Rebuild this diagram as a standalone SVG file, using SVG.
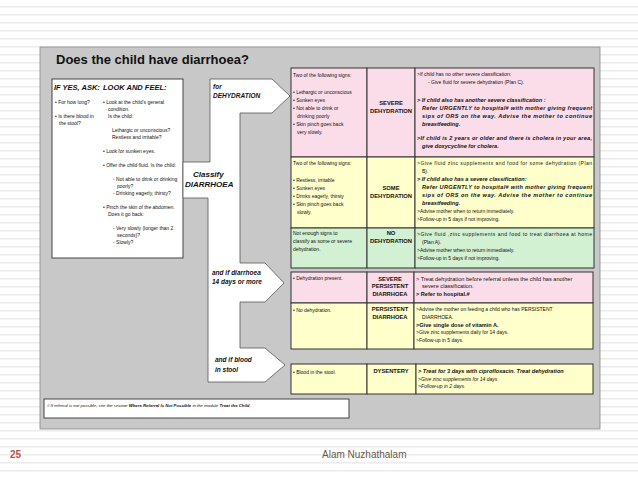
<svg xmlns="http://www.w3.org/2000/svg" width="638" height="478" viewBox="0 0 638 478">
<defs>
<pattern id="stripes" width="638" height="8" patternUnits="userSpaceOnUse">
<rect width="638" height="8" fill="#fff"/><rect y="6" width="638" height="1.5" fill="#ececec"/>
</pattern>
<style>
text{font-family:"Liberation Sans",Arial,sans-serif;fill:#111}
.s{font-size:5.6px}
.t{font-size:5px}
.b{font-weight:bold}
.i{font-style:italic}
.h{font-size:7.5px;font-weight:bold;font-style:italic}
.c{font-size:5.8px;font-weight:bold;text-anchor:middle}
.cell{stroke:#333;stroke-width:1}
.pk{fill:#fbdde9}.yl{fill:#ffffcc}.gn{fill:#d2f0d2}
</style>
</defs>
<rect width="638" height="478" fill="url(#stripes)"/>
<rect x="40" y="47" width="560" height="382" fill="#c8c8c8" stroke="#888" stroke-width="0.8"/>
<text x="56" y="64" style="font-size:13px;font-weight:bold">Does the child have diarrhoea?</text>

<g id="assess">
<rect x="52" y="79" width="131" height="179" fill="#fff" stroke="#444"/>
<text x="54" y="90" class="h">IF YES, ASK:</text><text x="103" y="90" class="h">LOOK AND FEEL:</text>
<text class="t"><tspan x="55" y="104">• For how long?</tspan><tspan x="55" y="118">• Is there blood in</tspan><tspan x="59" y="125">the stool?</tspan></text>
<text class="t"><tspan x="103" y="104">• Look at the child's general</tspan><tspan x="108" y="111">condition.</tspan><tspan x="108" y="118">Is the child:</tspan><tspan x="112" y="132">Lethargic or unconscious?</tspan><tspan x="112" y="139">Restless and irritable?</tspan><tspan x="103" y="153">• Look for sunken eyes.</tspan><tspan x="103" y="167">• Offer the child fluid. Is the child:</tspan><tspan x="113" y="181">- Not able to drink or drinking</tspan><tspan x="117" y="188">poorly?</tspan><tspan x="113" y="195">- Drinking eagerly, thirsty?</tspan><tspan x="103" y="209">• Pinch the skin of the abdomen.</tspan><tspan x="108" y="216">Does it go back:</tspan><tspan x="113" y="230">- Very slowly (longer than 2</tspan><tspan x="117" y="237">seconds)?</tspan><tspan x="113" y="244">- Slowly?</tspan></text>
</g>

<g id="connectors">
<polygon points="210,79 272,79 290,96 272,113 240,113 240,263 265,263 284,283 265,302 240,302 240,348 265,348 285,365 265,382 208,382 208,198 183,198 183,162 210,162" fill="#fff" stroke="#555" stroke-width="0.8"/>
<text class="i b" style="font-size:6.5px"><tspan x="213" y="89">for</tspan><tspan x="213" y="98">DEHYDRATION</tspan></text>
<text class="i b" style="font-size:8px"><tspan x="193" y="177">Classify</tspan><tspan x="185" y="187">DIARRHOEA</tspan></text>
<text class="i b" style="font-size:6.5px"><tspan x="212" y="275">and if diarrhoea</tspan><tspan x="212" y="284">14 days or more</tspan></text>
<text class="i b" style="font-size:6.5px"><tspan x="215" y="362">and if blood</tspan><tspan x="215" y="372">in stool</tspan></text>
</g>

<g id="severe-dehydration">
<rect class="cell pk" x="291" y="68" width="76" height="89"/><rect class="cell pk" x="367" y="68" width="48" height="89"/><rect class="cell pk" x="415" y="68" width="179" height="89"/>
<text class="t"><tspan x="293" y="77">Two of the following signs:</tspan><tspan x="293" y="94">• Lethargic or unconscious</tspan><tspan x="293" y="102">• Sunken eyes</tspan><tspan x="293" y="110">• Not able to drink or</tspan><tspan x="297" y="118">drinking poorly</tspan><tspan x="293" y="126">• Skin pinch goes back</tspan><tspan x="297" y="134">very slowly.</tspan></text>
<text class="c"><tspan x="391" y="105">SEVERE</tspan><tspan x="391" y="113">DEHYDRATION</tspan></text>
<text class="t"><tspan x="417" y="76">&gt;If child has no other severe classification:</tspan><tspan x="428" y="84">- Give fluid for severe dehydration (Plan C).</tspan></text>
<text class="s b i"><tspan x="417" y="102">&gt; If child also has another severe classification :</tspan><tspan x="422" y="110" textLength="170" lengthAdjust="spacing">Refer URGENTLY to hospital# with mother giving frequent</tspan><tspan x="422" y="118" textLength="170" lengthAdjust="spacing">sips of ORS on the way. Advise the mother to continue</tspan><tspan x="422" y="126">breastfeeding.</tspan><tspan x="417" y="140" textLength="175" lengthAdjust="spacing">&gt;If child is 2 years or older and there is cholera in your area,</tspan><tspan x="422" y="148">give doxycycline for cholera.</tspan></text>
</g>

<g id="some-dehydration">
<rect class="cell yl" x="291" y="157" width="76" height="71"/><rect class="cell yl" x="367" y="157" width="48" height="71"/><rect class="cell yl" x="415" y="157" width="179" height="71"/>
<text class="t"><tspan x="293" y="165">Two of the following signs:</tspan><tspan x="293" y="182">• Restless, irritable</tspan><tspan x="293" y="190">• Sunken eyes</tspan><tspan x="293" y="198">• Drinks eagerly, thirsty</tspan><tspan x="293" y="206">• Skin pinch goes back</tspan><tspan x="297" y="214">slowly.</tspan></text>
<text class="c"><tspan x="391" y="190">SOME</tspan><tspan x="391" y="198">DEHYDRATION</tspan></text>
<text class="t"><tspan x="417" y="165" textLength="175" lengthAdjust="spacing">&gt;Give fluid zinc supplements and food for some dehydration (Plan</tspan><tspan x="422" y="173">B).</tspan></text>
<text class="s b i"><tspan x="417" y="181">&gt; If child also has a severe classification:</tspan><tspan x="422" y="189" textLength="170" lengthAdjust="spacing">Refer URGENTLY to hospital# with mother giving frequent</tspan><tspan x="422" y="197" textLength="170" lengthAdjust="spacing">sips of ORS on the way. Advise the mother to continue</tspan><tspan x="422" y="205">breastfeeding.</tspan></text>
<text class="t"><tspan x="417" y="213">&gt;Advise mother when to return immediately.</tspan><tspan x="417" y="221">&gt;Follow-up in 5 days if not improving.</tspan></text>
</g>

<g id="no-dehydration">
<rect class="cell gn" x="291" y="228" width="76" height="40"/><rect class="cell gn" x="367" y="228" width="48" height="40"/><rect class="cell gn" x="415" y="228" width="179" height="40"/>
<text class="t"><tspan x="293" y="235">Not enough signs to</tspan><tspan x="293" y="243">classify as some or severe</tspan><tspan x="293" y="251">dehydration.</tspan></text>
<text class="c"><tspan x="391" y="235">NO</tspan><tspan x="391" y="243">DEHYDRATION</tspan></text>
<text class="t"><tspan x="417" y="236" textLength="175" lengthAdjust="spacing">&gt;Give fluid ,zinc supplements and food to treat diarrhoea at home</tspan><tspan x="422" y="244">(Plan A).</tspan><tspan x="417" y="252">&gt;Advise mother when to return immediately.</tspan><tspan x="417" y="260">&gt;Follow-up in 5 days if not improving.</tspan></text>
</g>

<g id="severe-persistent">
<rect class="cell pk" x="291" y="272" width="76" height="31"/><rect class="cell pk" x="367" y="272" width="47" height="31"/><rect class="cell pk" x="414" y="272" width="179" height="31"/>
<text class="t" x="293" y="280">• Dehydration present.</text>
<text class="c"><tspan x="390" y="281">SEVERE</tspan><tspan x="390" y="288">PERSISTENT</tspan><tspan x="390" y="296">DIARRHOEA</tspan></text>
<text class="s"><tspan x="416" y="281">&gt; Treat dehydration before referral unless the child has another</tspan><tspan x="422" y="288">severe classification.</tspan><tspan x="416" y="296" class="b">&gt; Refer to hospital.#</tspan></text>
</g>

<g id="persistent">
<rect class="cell yl" x="291" y="303" width="76" height="46"/><rect class="cell yl" x="367" y="303" width="47" height="46"/><rect class="cell yl" x="414" y="303" width="179" height="46"/>
<text class="t" x="293" y="312">• No dehydration.</text>
<text class="c"><tspan x="390" y="311">PERSISTENT</tspan><tspan x="390" y="319">DIARRHOEA</tspan></text>
<text class="t"><tspan x="416" y="311">&gt;Advise the mother on feeding a child who has PERSISTENT</tspan><tspan x="422" y="319">DIARRHOEA.</tspan><tspan x="416" y="327" class="s b">&gt;Give single dose of vitamin A.</tspan><tspan x="416" y="334">&gt;Give zinc supplements daily for 14 days.</tspan><tspan x="416" y="342">&gt;Follow-up in 5 days.</tspan></text>
</g>

<g id="dysentery">
<rect class="cell yl" x="291" y="364" width="76" height="30"/><rect class="cell yl" x="367" y="364" width="49" height="30"/><rect class="cell yl" x="416" y="364" width="177" height="30"/>
<text class="t" x="293" y="374">• Blood in the stool.</text>
<text class="c" x="391" y="373">DYSENTERY</text>
<text class="s b i" x="418" y="373">&gt; Treat for 3 days with ciprofloxacin. Treat dehydration</text>
<text class="t i"><tspan x="418" y="381">&gt;Give zinc supplements for 14 days</tspan><tspan x="418" y="388">&gt;Follow-up in 2 days.</tspan></text>
</g>

<g id="footnote">
<rect x="44" y="399" width="305" height="19" fill="#fff" stroke="#444"/>
<text class="i" style="font-size:4.3px" x="47" y="407"># If referral is not possible, see the section <tspan class="b">Where Referral Is Not Possible</tspan> in the module <tspan class="b">Treat the Child</tspan>.</text>
</g>

<text x="10" y="458" style="font-size:10px;font-weight:bold;fill:#c0504d">25</text>
<text x="322" y="458" style="font-size:10px;fill:#6b5a4a">Alam Nuzhathalam</text>
</svg>
